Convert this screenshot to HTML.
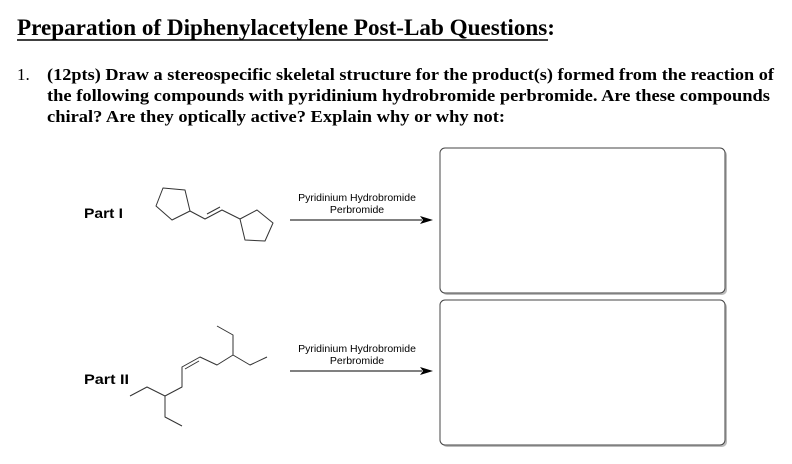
<!DOCTYPE html>
<html><head><meta charset="utf-8"><style>
html,body{margin:0;padding:0;background:#fff;}
svg{display:block;}
</style></head><body>
<svg width="792" height="464" viewBox="0 0 792 464" xmlns="http://www.w3.org/2000/svg">
<g font-family="Liberation Serif, serif" font-weight="bold" fill="#000">
<text x="17" y="35" font-size="23" textLength="538" lengthAdjust="spacingAndGlyphs">Preparation of Diphenylacetylene Post-Lab Questions:</text>
<line x1="17" y1="40" x2="548" y2="40" stroke="#000" stroke-width="1.6"/>
<text x="17" y="80" font-size="17" font-weight="normal">1.</text>
<text x="47" y="80" font-size="17" textLength="727" lengthAdjust="spacingAndGlyphs">(12pts) Draw a stereospecific skeletal structure for the product(s) formed from the reaction of</text>
<text x="47" y="101" font-size="17" textLength="723" lengthAdjust="spacingAndGlyphs">the following compounds with pyridinium hydrobromide perbromide.  Are these compounds</text>
<text x="47" y="122" font-size="17" textLength="458" lengthAdjust="spacingAndGlyphs">chiral?  Are they optically active?  Explain why or why not:</text>
</g>
<g font-family="Liberation Sans, sans-serif" fill="#000">
<text x="84" y="218" font-size="14" font-weight="bold" textLength="39" lengthAdjust="spacingAndGlyphs">Part I</text>
<text x="84" y="384" font-size="14" font-weight="bold" textLength="45" lengthAdjust="spacingAndGlyphs">Part II</text>
<text x="357" y="201" font-size="10.5" text-anchor="middle">Pyridinium Hydrobromide</text>
<text x="357" y="213" font-size="10.5" text-anchor="middle">Perbromide</text>
<text x="357" y="352" font-size="10.5" text-anchor="middle">Pyridinium Hydrobromide</text>
<text x="357" y="364" font-size="10.5" text-anchor="middle">Perbromide</text>
</g>
<g stroke="#000" stroke-width="1" fill="none">
<line x1="290" y1="220" x2="422" y2="220"/>
<line x1="290" y1="371" x2="422" y2="371"/>
</g>
<polygon points="420,216 433,220 420,224 423,220" fill="#000"/>
<polygon points="420,367 433,371 420,375 423,371" fill="#000"/>
<rect x="442" y="150" width="285" height="145" rx="5" fill="#bbb"/>
<rect x="440" y="148" width="285" height="145" rx="5" fill="#fff" stroke="#444" stroke-width="1"/>
<rect x="442" y="302" width="285" height="145" rx="5" fill="#bbb"/>
<rect x="440" y="300" width="285" height="145" rx="5" fill="#fff" stroke="#444" stroke-width="1"/>
<g stroke="#333" stroke-width="1" fill="none" stroke-linejoin="round">
<polygon points="163,188 185,190 190,211 172,220 156,206"/>
<polyline points="190,211 205,219 222,210 240,219"/>
<line x1="207" y1="214" x2="220" y2="207"/>
<polygon points="240,219 257,210 273,223 265,241 245,240"/>
<polyline points="217,326 233,335 233,355 250,365 267,357"/>
<polyline points="233,355 217,365 200,357 182,367 182,387 165,396 165,417 182,426"/>
<polyline points="165,396 147,387 130,396"/>
<line x1="199" y1="361" x2="185" y2="369"/>
</g>
</svg>
</body></html>
